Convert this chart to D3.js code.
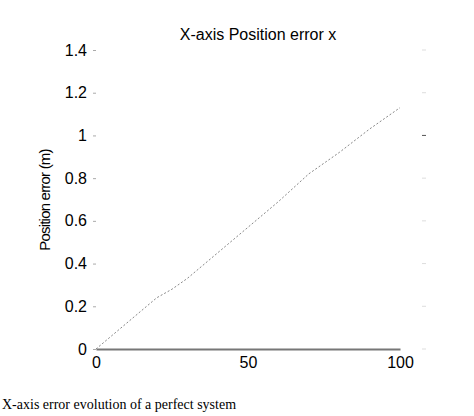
<!DOCTYPE html>
<html><head><meta charset="utf-8">
<script src="https://cdn.jsdelivr.net/npm/d3@7"></script>
<style>body{margin:0;background:#fff}</style>
</head><body>
<svg id="chart" width="474" height="416"></svg>
<script>
var steps = [0, 10, 20, 25, 30, 40, 50, 60, 70, 80, 90, 100];
var errX = [0, 0.12, 0.24, 0.28, 0.33, 0.45, 0.57, 0.69, 0.82, 0.92, 1.03, 1.13];
var xTicks = [0, 50, 100];
var yTicks = [0, 0.2, 0.4, 0.6, 0.8, 1, 1.2, 1.4];

var svg = d3.select("#chart");
var x = d3.scaleLinear().domain([0, 100]).range([96, 400]);
var y = d3.scaleLinear().domain([0, 1.4]).range([349, 50]);

// y axis: only small tick marks, no line
var ya = svg.append("g").attr("transform", "translate(96,0)")
	.call(d3.axisLeft(y).tickValues(yTicks).tickSize(3).tickPadding(6).tickFormat(function(d){ return d; }));
ya.select(".domain").remove();
ya.selectAll("line").attr("stroke", "#aaa");
ya.selectAll("text").attr("font-family", "Arial, Liberation Sans").attr("font-size", 16).attr("fill", "#000");

var xa = svg.append("g").attr("transform", "translate(0,349)")
	.call(d3.axisBottom(x).tickValues(xTicks).tickSize(0).tickPadding(8));
xa.select(".domain").attr("stroke", "#777").attr("stroke-width", 2);
xa.selectAll("text").attr("font-family", "Arial, Liberation Sans").attr("font-size", 16).attr("fill", "#000");

// faint right-side ticks
svg.selectAll(".rt").data(yTicks).enter().append("line")
	.attr("x1", 422).attr("x2", 426)
	.attr("y1", function(d){ return y(d); }).attr("y2", function(d){ return y(d); })
	.attr("stroke", function(d){ return d == 1 ? "#555" : "#ddd"; });

svg.append("path").datum(d3.zip(steps, errX))
	.attr("fill", "none").attr("stroke", "#888").attr("stroke-width", 1)
	.attr("stroke-dasharray", "2,2")
	.attr("d", d3.line().x(function(d){ return x(d[0]); }).y(function(d){ return y(d[1]); }));

svg.append("text").attr("x", 258).attr("y", 40).attr("text-anchor", "middle")
	.attr("font-family", "Arial, Liberation Sans").attr("font-size", 16).text("X-axis Position error x");

svg.append("text").attr("transform", "translate(50,200) rotate(-90)").attr("text-anchor", "middle")
	.attr("font-family", "Arial, Liberation Sans").attr("font-size", 15).attr("letter-spacing", -0.8)
	.text("Position error (m)");

svg.append("text").attr("x", 2).attr("y", 409)
	.attr("font-family", "Liberation Serif, Times New Roman, serif").attr("font-size", 14)
	.text("X-axis error evolution of a perfect system");
</script>
</body></html>
